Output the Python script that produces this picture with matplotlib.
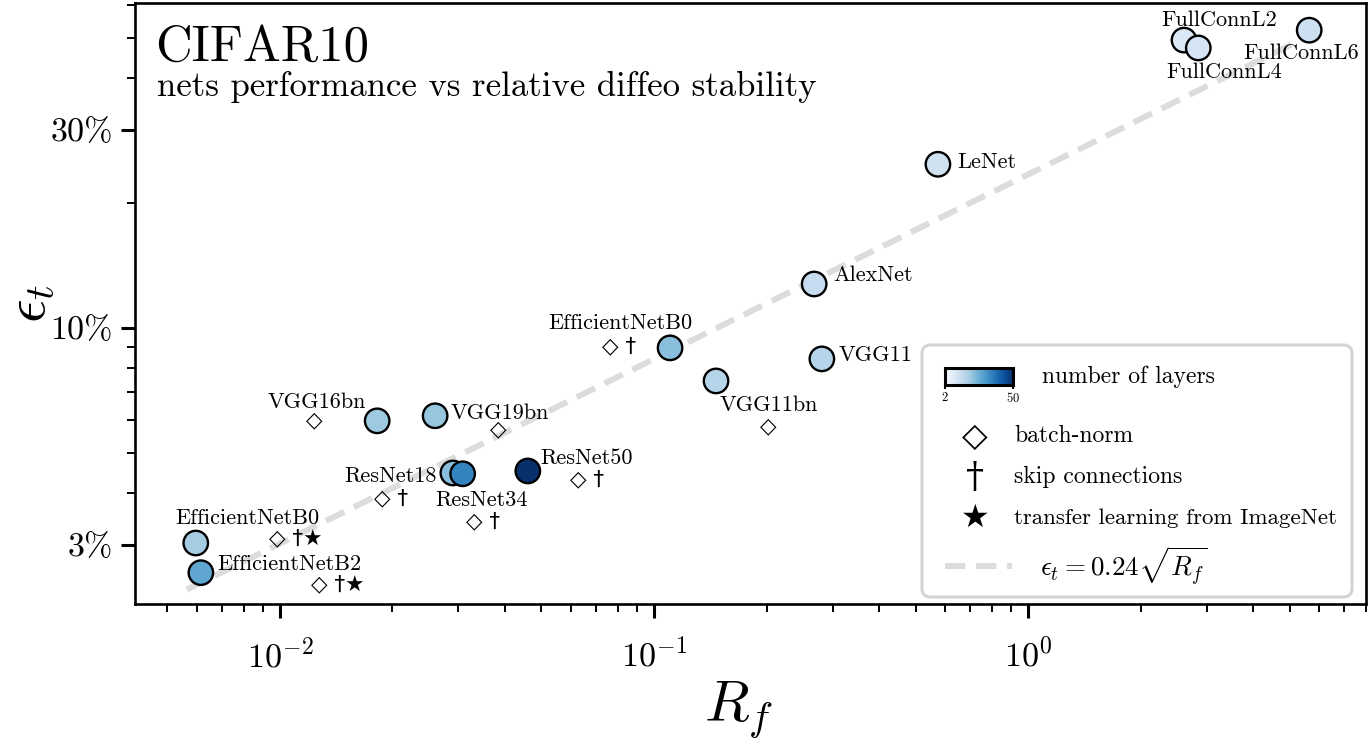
import numpy as np
import matplotlib
matplotlib.use("Agg")
import matplotlib.pyplot as plt
from matplotlib.ticker import FixedLocator, FuncFormatter, LogLocator, NullFormatter
from matplotlib.patches import FancyBboxPatch
from matplotlib.lines import Line2D
import matplotlib.cm as cm
import matplotlib.colors as mcolors

plt.rcParams['font.family'] = ['cmr10', 'DejaVu Serif', 'DejaVu Sans']
plt.rcParams['mathtext.fontset'] = 'cm'
plt.rcParams['axes.formatter.use_mathtext'] = True

# ---------------- data ----------------
names = ['FullConnL2', 'FullConnL4', 'FullConnL6', 'LeNet', 'AlexNet', 'VGG11',
         'VGG11bn', 'VGG16bn', 'VGG19bn', 'ResNet18', 'ResNet34', 'ResNet50',
         'EfficientNetB0', 'EfficientNetB0', 'EfficientNetB2']
R_f = [2.61, 2.85, 5.64, 0.574, 0.268, 0.281,
       0.1465, 0.0182, 0.0260, 0.0290, 0.0308, 0.0460,
       0.1104, 0.00596, 0.00615]
eps_t = [0.494, 0.473, 0.522, 0.248, 0.1276, 0.0842,
         0.0745, 0.0597, 0.0614, 0.0447, 0.0445, 0.0452,
         0.0895, 0.0303, 0.0257]
layers = [2, 4, 6, 5, 8, 11, 11, 15, 16, 18, 32, 50, 18, 14, 24]
batchnorm = [0, 0, 0, 0, 0, 0, 1, 1, 1, 1, 1, 1, 1, 1, 1]
skip = [0, 0, 0, 0, 0, 0, 0, 0, 0, 1, 1, 1, 1, 1, 1]
transfer = [0, 0, 0, 0, 0, 0, 0, 0, 0, 0, 0, 0, 0, 1, 1]

fit_R = [0.00564, 5.34]
fit_eps = [0.0234, 0.494]

y_major = [0.03, 0.10, 0.30]
y_minor = [0.02, 0.04, 0.05, 0.06, 0.07, 0.08, 0.09, 0.2, 0.4, 0.5, 0.6]

# label placement (pixel offsets from point, ha) and flags placement
lab_off = [(35, 20, 'center'), (26, -24, 'center'), (-8, -23, 'center'), (19, 2, 'left'),
           (19, 9, 'left'), (17, 4, 'left'), (4, -24, 'left'), (-11, 19, 'right'),
           (15, 3, 'left'), (-16, -3, 'right'), (19, -26, 'center'), (12, 13, 'left'),
           (-50, 25, 'center'), (52, 25, 'center'), (16, 8, 'left')]
flag_off = [None, None, None, None, None, None, (52, -45), (-63, 1), (63, -14),
            (-62, -25), (20, -48), (59, -8), (-51, 2), (100, 5), (137, -12)]

# ---------------- figure ----------------
fig = plt.figure(figsize=(13.7, 7.38), dpi=100)
ax = fig.add_axes([135/1370, 1-604/738, 1231/1370, 601/738])
ax.set_xscale('log')
ax.set_yscale('log')
ax.set_xlim(0.0041, 8.0)
ax.set_ylim(0.0216, 0.607)

fit_color = '#dcdcdc'
ax.plot(fit_R, fit_eps, color=fit_color, lw=4.3, dashes=(3.4, 1.8), zorder=1,
        solid_capstyle='butt', dash_capstyle='butt')

cmap = plt.get_cmap('Blues')
norm_pts = mcolors.Normalize(vmin=-6, vmax=50)
ax.scatter(R_f, eps_t, s=310, c=[cmap(norm_pts(l)) for l in layers],
           edgecolors='black', linewidths=1.7, zorder=3)

px = 0.72  # points per pixel at 100 dpi
lab_fs = 16
for i, n in enumerate(names):
    dx, dy, ha = lab_off[i]
    ax.annotate(n, (R_f[i], eps_t[i]), xytext=(dx*px, dy*px), textcoords='offset points',
                ha=ha, va='center', fontsize=lab_fs, zorder=4)
    if flag_off[i] is not None:
        s = '◇'
        if skip[i]:
            s += ' †'
        if transfer[i]:
            s += '★'
        fx, fy = flag_off[i]
        ax.annotate(s, (R_f[i], eps_t[i]), xytext=(fx*px, fy*px), textcoords='offset points',
                    ha='center', va='center', fontsize=15.5, zorder=4,
                    family=['DejaVu Sans'])

# axes styling
for sp in ax.spines.values():
    sp.set_linewidth(1.9)
ax.yaxis.set_major_locator(FixedLocator(y_major))
ax.yaxis.set_minor_locator(FixedLocator(y_minor))
ax.yaxis.set_major_formatter(FuncFormatter(lambda v, p: f'{v*100:.0f}%'))
ax.yaxis.set_minor_formatter(NullFormatter())
ax.xaxis.set_major_locator(LogLocator(base=10))
ax.xaxis.set_minor_locator(LogLocator(base=10, subs=np.arange(2, 10)))
ax.xaxis.set_minor_formatter(NullFormatter())
ax.tick_params(which='major', length=10, width=2.2, labelsize=24.5, direction='out')
ax.tick_params(which='minor', length=6, width=1.4, direction='out')
ax.tick_params(axis='x', which='major', pad=14)
ax.tick_params(axis='y', which='major', pad=6)

ax.set_xlabel('$R_f$', fontsize=42, labelpad=2)
ax.xaxis.set_label_coords(0.49, -0.125)
ax.set_ylabel(r'$\epsilon_t$', fontsize=42)
ax.yaxis.set_label_coords(-0.063, 0.5)

ax.text(0.016, 0.925, 'CIFAR10', transform=ax.transAxes, fontsize=36.5, va='center', ha='left')
ax.text(0.018, 0.86, 'nets performance vs relative diffeo stability', transform=ax.transAxes,
        fontsize=25, va='center', ha='left')

# ---------------- legend (manual) ----------------
def fx(p):
    return (p - 135) / 1231
def fy(p):
    return (604 - p) / 601

box = FancyBboxPatch((fx(922), fy(597)), fx(1352) - fx(922), fy(345) - fy(597),
                     boxstyle='round,pad=0,rounding_size=0.007', mutation_aspect=2.05,
                     transform=ax.transAxes, facecolor='white', edgecolor='#d4d4d4',
                     linewidth=2.2, zorder=5)
ax.add_patch(box)

cax = ax.inset_axes([fx(945), fy(385), fx(1013) - fx(945), fy(368) - fy(385)])
cax.set_zorder(6)
norm_cb = mcolors.Normalize(vmin=2, vmax=50)
cb = fig.colorbar(cm.ScalarMappable(norm=norm_cb, cmap=cmap), cax=cax,
                  orientation='horizontal', ticks=[2, 50])
cb.outline.set_linewidth(2.2)
cax.tick_params(labelsize=9, length=3, width=1.5, pad=1)

lfs = 17
ax.text(fx(1042), fy(377), 'number of layers', transform=ax.transAxes, fontsize=lfs,
        va='center', ha='left', zorder=7)
ax.text(fx(975), fy(436), '◇', transform=ax.transAxes, fontsize=24, va='center',
        ha='center', zorder=7, family=['DejaVu Sans'])
ax.text(fx(1014), fy(436), 'batch-norm', transform=ax.transAxes, fontsize=lfs,
        va='center', ha='left', zorder=7)
ax.text(fx(975), fy(477), '†', transform=ax.transAxes, fontsize=26, va='center',
        ha='center', zorder=7, family=['DejaVu Serif'])
ax.text(fx(1014), fy(477), 'skip connections', transform=ax.transAxes, fontsize=lfs,
        va='center', ha='left', zorder=7)
ax.text(fx(975), fy(518), '★', transform=ax.transAxes, fontsize=23, va='center',
        ha='center', zorder=7, family=['DejaVu Sans'])
ax.text(fx(1014), fy(518), 'transfer learning from ImageNet', transform=ax.transAxes,
        fontsize=16.5, va='center', ha='left', zorder=7)
ax.add_line(Line2D([fx(945), fx(1012)], [fy(566), fy(566)], transform=ax.transAxes,
                   color=fit_color, lw=4.3, dashes=(3.4, 1.8), zorder=7))
ax.text(fx(1040), fy(566), r'$\epsilon_t = 0.24\sqrt{R_f}$', transform=ax.transAxes,
        fontsize=19.5, va='center', ha='left', zorder=7)

fig.savefig('out.png', dpi=100)
